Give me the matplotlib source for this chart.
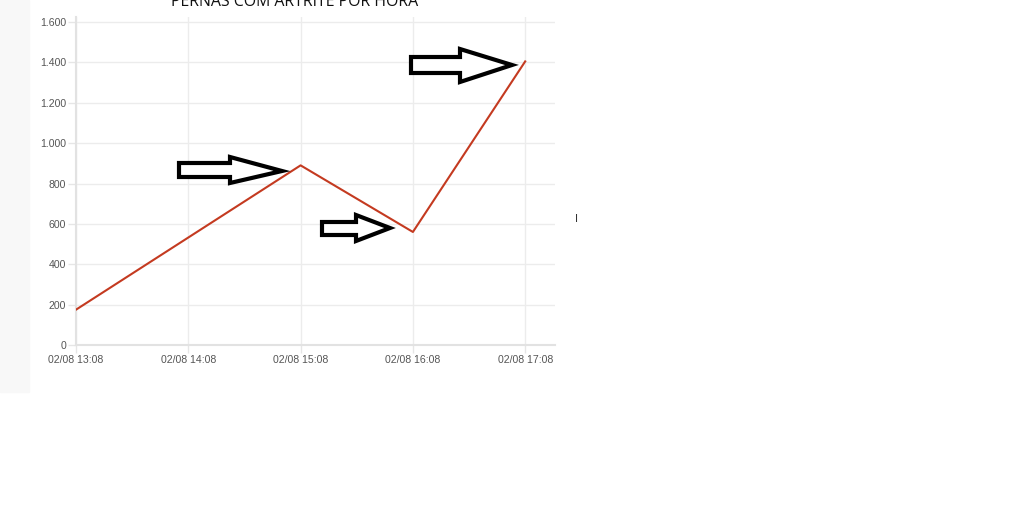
import matplotlib.pyplot as plt
from matplotlib.patches import Polygon, Rectangle
from matplotlib.ticker import FuncFormatter

W, H = 1024, 519

hours = ['02/08 13:08', '02/08 14:08', '02/08 15:08', '02/08 16:08', '02/08 17:08']
x_pos = [0, 2, 3, 4]
counts = [175, 890, 560, 1405]
y_ticks = [0, 200, 400, 600, 800, 1000, 1200, 1400, 1600]

# hand-drawn block arrows (pixel coords: shaft left, shaft top, shaft bottom,
# head base, head top, head bottom, tip x, tip y)
arrows = [
    (179, 163, 177, 230, 157, 183, 282, 171),
    (322, 222, 235, 356, 215, 241, 390, 228),
    (411, 57, 73, 460, 49, 82, 512, 65),
]


def px(x, y):
    return x / W, 1 - y / H


def thousands(v, _):
    return f'{int(v):,}'.replace(',', '.')


plt.rcParams['font.family'] = ['Liberation Sans', 'DejaVu Sans']

fig = plt.figure(figsize=(W / 100, H / 100), dpi=100)
fig.patches.append(Rectangle((0, 1 - 392 / H), 29 / W, 392 / H,
                             transform=fig.transFigure, color='#f8f8f8', zorder=0))

left, right, top, bottom = 76, 555, 17, 345
ax = fig.add_axes([left / W, 1 - bottom / H, (right - left) / W, (bottom - top) / H])
ax.set_facecolor('white')

ax.plot(x_pos, counts, color='#c43a20', lw=1.5, zorder=3)

ax.set_xlim(0, (right - left) / 112.3)
ax.set_ylim(0, 1625)
ax.set_xticks(range(len(hours)))
ax.set_xticklabels(hours)
ax.set_yticks(y_ticks)
ax.yaxis.set_major_formatter(FuncFormatter(thousands))
ax.tick_params(colors='#e6e6e6', labelcolor='#555555', labelsize=7.6,
               length=6, width=1, pad=1)
ax.grid(True, color='#ececec', lw=1)
ax.set_axisbelow(True)
for side in ['top', 'right']:
    ax.spines[side].set_visible(False)
for side in ['left', 'bottom']:
    ax.spines[side].set_color('#e2e2e2')
    ax.spines[side].set_linewidth(1.5)

# title sits partly above the top edge, as in the screenshot
fig.text(*px(295, 6), 'PERNAS COM ARTRITE POR HORA', ha='center', va='baseline',
         fontsize=11.4, family=['Open Sans', 'DejaVu Sans'], color='#111111')

for sl, st, sb, hb, ht, hbm, tx, ty in arrows:
    pts = [(sl, st), (hb, st), (hb, ht), (tx, ty), (hb, hbm), (hb, sb), (sl, sb)]
    fig.patches.append(Polygon([px(x, y) for x, y in pts], closed=True,
                               transform=fig.transFigure, facecolor='white',
                               edgecolor='black', lw=3, joinstyle='miter', zorder=5))

fig.text(*px(577, 219), 'I', ha='center', va='center', fontsize=8, color='#333333')

fig.savefig('out.png', dpi=100)
